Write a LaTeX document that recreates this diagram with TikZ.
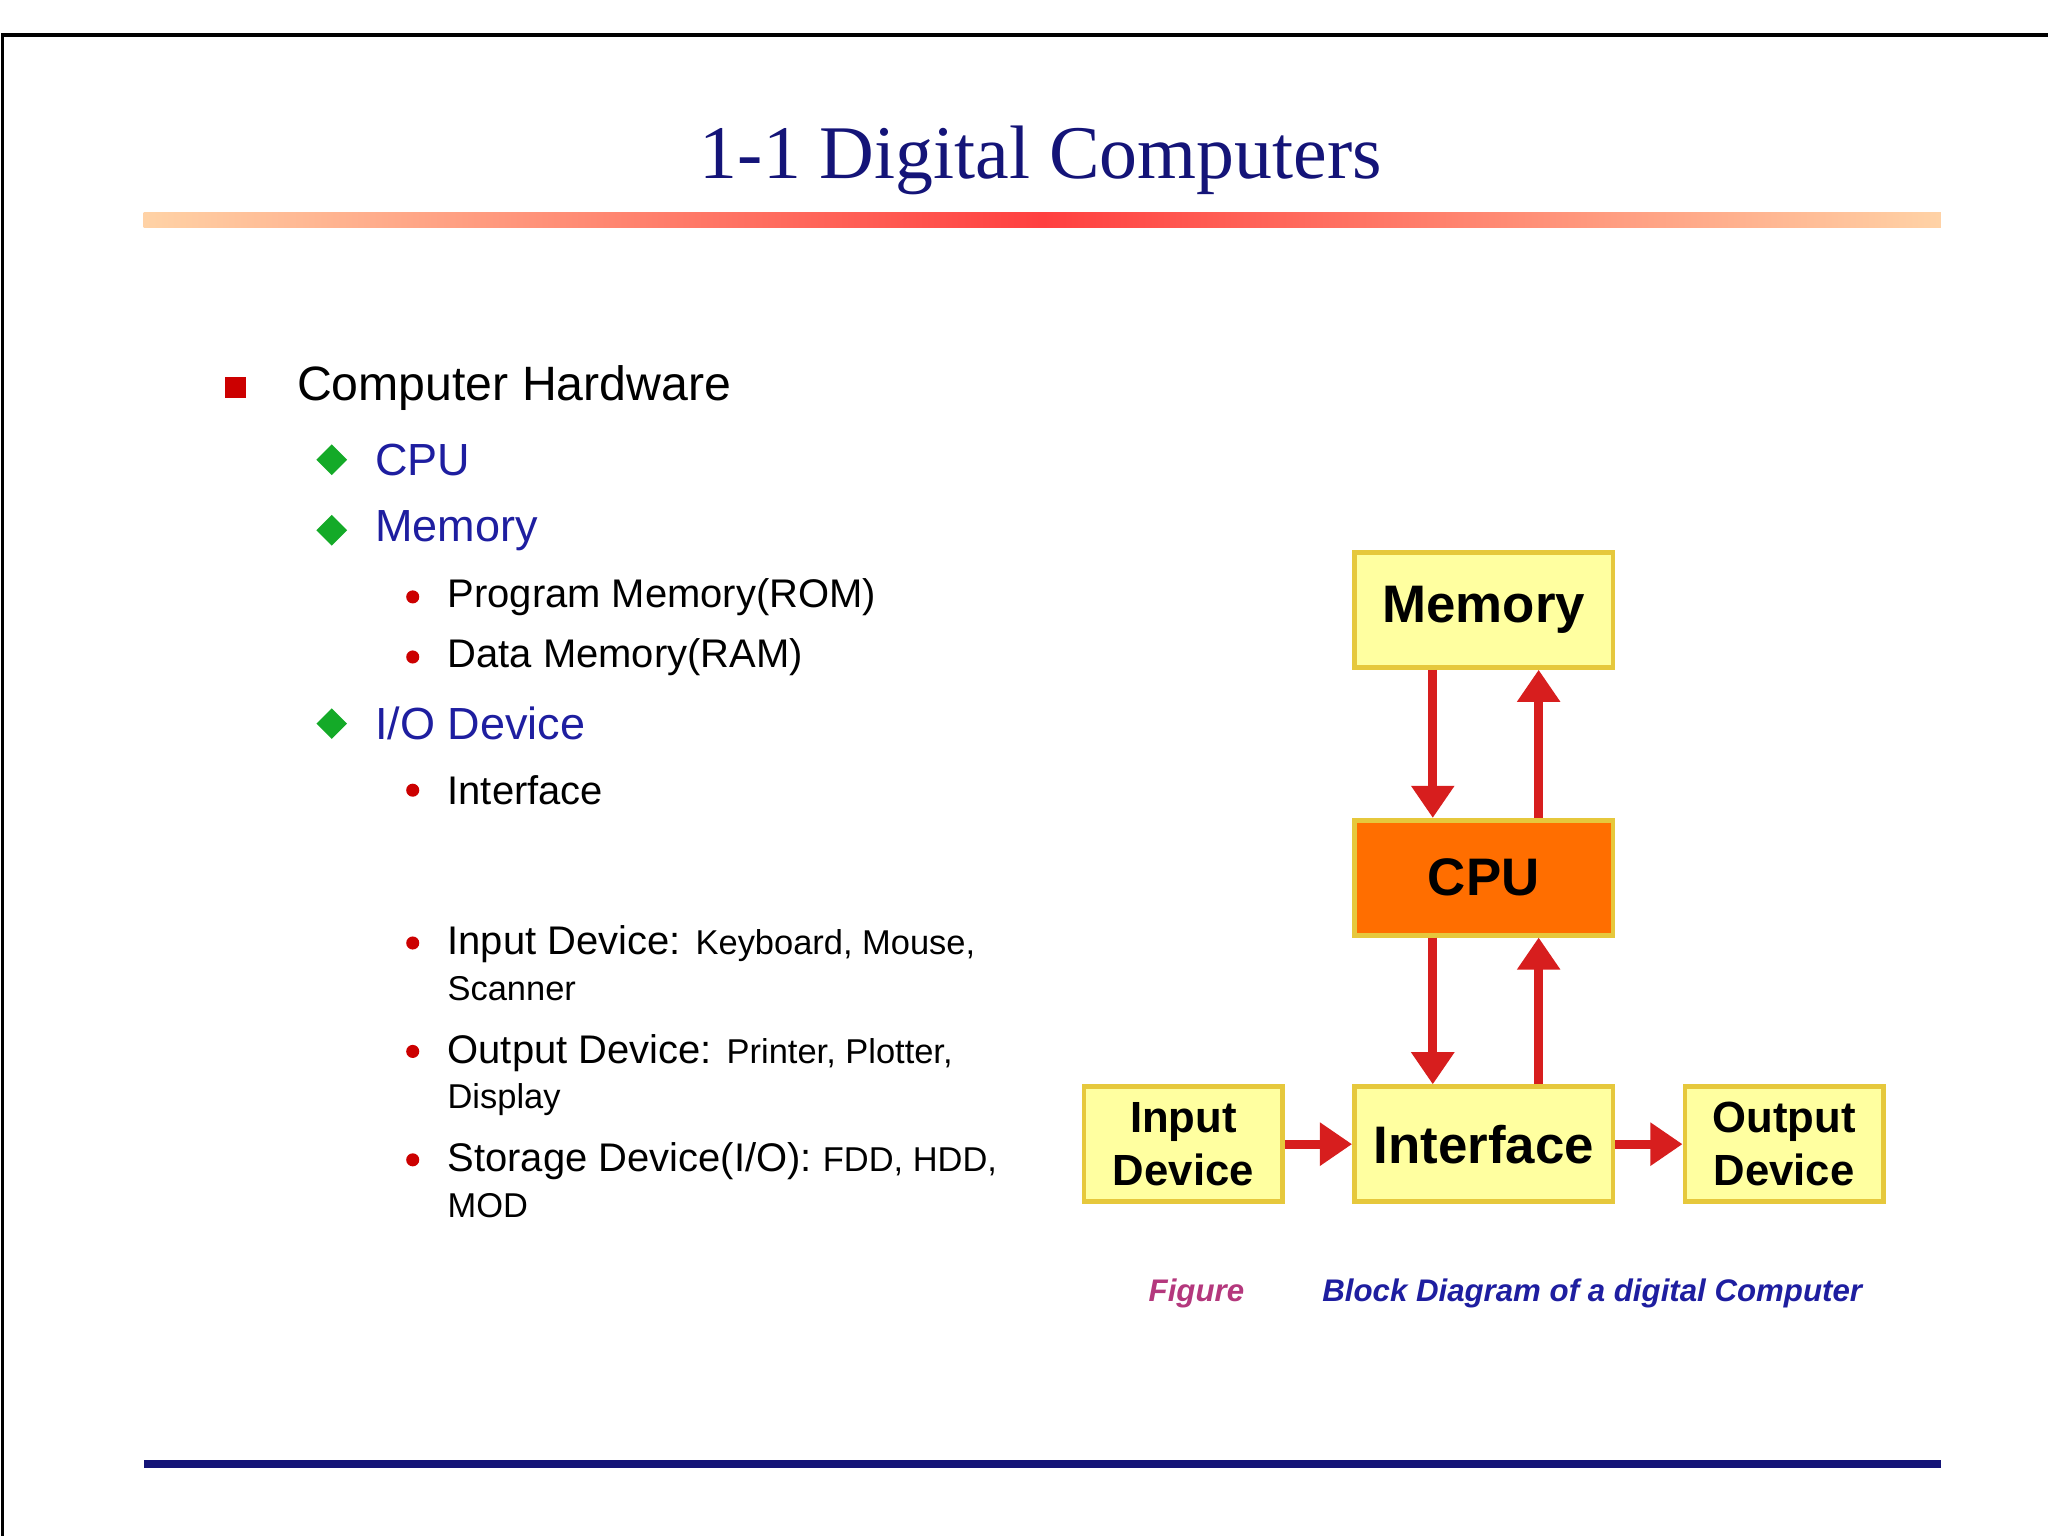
\documentclass[tikz,border=0pt]{standalone}
\usepackage{fontspec}
\setmainfont{Liberation Sans}
\newfontfamily\titlefont{Liberation Serif}
\usetikzlibrary{arrows.meta,shapes.geometric}
\definecolor{navy}{RGB}{20,20,120}
\definecolor{txtblue}{RGB}{30,30,160}
\definecolor{boxfill}{RGB}{255,255,160}
\definecolor{boxline}{RGB}{230,200,60}
\definecolor{cpufill}{RGB}{255,110,0}
\definecolor{arrred}{RGB}{215,30,30}
\definecolor{bulgreen}{RGB}{20,170,40}

\begin{document}
\begin{tikzpicture}[x=0.01cm,y=-0.01cm,
    box/.style={draw=boxline,line width=1pt,fill=boxfill,minimum width=1.98cm,minimum height=0.88cm,
      inner sep=1pt,font=\bfseries\fontsize{11.5}{13}\selectfont,align=center},
    io/.style={box,minimum width=1.52cm,font=\bfseries\fontsize{9.5}{11.5}\selectfont},
    link/.style={draw=arrred,line width=2pt,-{Triangle[length=7pt,width=9pt]}},
    lvl1/.style={anchor=west,font=\fontsize{10.5}{14}\selectfont},
    lvl2/.style={anchor=west,text=txtblue,font=\fontsize{9.8}{13}\selectfont},
    lvl3/.style={anchor=west,font=\fontsize{8.7}{10}\selectfont,align=left,inner sep=0pt}]
  \useasboundingbox (0,0) rectangle (1568,1176);
  \draw[line width=0.8pt] (2,1176) -- (2,27) -- (1568,27);

  % title
  \node[text=navy,font=\titlefont\fontsize{16.5}{20}\selectfont] (title) at (797,123) {1-1 Digital Computers};
  \shade[left color=orange!35,right color=orange!35,middle color=red!75] (110,163) rectangle (1486,174);
  \fill[navy] (110,1118) rectangle (1486,1124);

  % bullets
  \fill[red!80!black] (172,289) rectangle (188,305);
  \node[lvl1] (hw) at (215,297) {Computer Hardware};
  \foreach \y/\t in {352/CPU,406/Memory,554/{I/O Device}}{
    \node[diamond,fill=bulgreen,inner sep=0pt,minimum size=0.24cm] at (254,\y) {};
    \node[lvl2] at (275,\y) {\t};
  }
  \foreach \y in {457,503,605,722,805,888}
    \fill[red!80!black] (316,\y) circle (5);
  \node[lvl3] (rom) at (342,457) {Program Memory(ROM)};
  \node[lvl3] (ram) at (342,503) {Data Memory(RAM)};
  \node[lvl3] (intf) at (342,605) {Interface};
  \node[lvl3,anchor=north west] (inp) at (342,708) {Input Device: {\fontsize{7.5}{10}\selectfont Keyboard, Mouse,}\\{\fontsize{7.5}{10}\selectfont Scanner}};
  \node[lvl3,anchor=north west] (outp) at (342,791) {Output Device: {\fontsize{7.5}{10}\selectfont Printer, Plotter,}\\{\fontsize{7.5}{10}\selectfont Display}};
  \node[lvl3,anchor=north west] (stor) at (342,874) {Storage Device(I/O): {\fontsize{7.5}{10}\selectfont FDD, HDD,}\\{\fontsize{7.5}{10}\selectfont MOD}};

  % block diagram
  \node[box] (mem) at (1136,467) {Memory};
  \node[box,fill=cpufill] (cpu) at (1136,672) {CPU};
  \node[box] (ifc) at (1136,876) {Interface};
  \node[io] (in) at (906,876) {Input\\Device};
  \node[io] (out) at (1366,876) {Output\\Device};

  \draw[link] ([xshift=-0.39cm]mem.south) -- ([xshift=-0.39cm]cpu.north);
  \draw[link] ([xshift=0.42cm]cpu.north) -- ([xshift=0.42cm]mem.south);
  \draw[link] ([xshift=-0.39cm]cpu.south) -- ([xshift=-0.39cm]ifc.north);
  \draw[link] ([xshift=0.42cm]ifc.north) -- ([xshift=0.42cm]cpu.south);
  \draw[link] (in) -- (ifc);
  \draw[link] (ifc) -- (out);

  \node[text=magenta!70!black,font=\bfseries\itshape\fontsize{6.8}{9}\selectfont] (fig) at (916,990) {Figure};
  \node[anchor=west,text=txtblue,font=\bfseries\itshape\fontsize{6.8}{9}\selectfont] (cap) at (1000,990) {Block Diagram of a digital Computer};
\end{tikzpicture}
\end{document}
